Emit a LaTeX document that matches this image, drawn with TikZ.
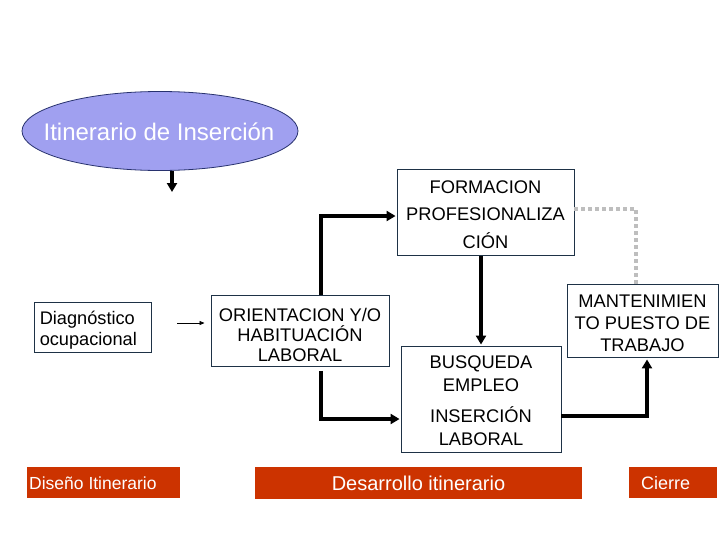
\documentclass[tikz,border=0pt]{standalone}
\usepackage{fontspec}
\setmainfont{Liberation Sans}
\usetikzlibrary{arrows.meta,shapes.geometric}
\definecolor{barred}{RGB}{204,51,0}
\definecolor{ellfill}{RGB}{160,160,240}
\definecolor{ellline}{RGB}{40,50,110}
\definecolor{boxline}{RGB}{30,50,70}
\definecolor{dotgray}{RGB}{190,190,190}
\tikzset{
  box/.style={draw=boxline, line width=0.9pt, rectangle, inner sep=0pt},
  boxtext/.style={inner sep=0pt, align=center},
  fs/.style 2 args={font=\fontsize{#1}{#2}\selectfont},
  bar/.style={fill=barred, inner sep=0pt, text=white},
  thick arrow/.style={line width=3.3pt, -{Triangle[length=9pt,width=10pt]}},
}
\begin{document}
\begin{tikzpicture}[x=1pt,y=-1pt]
\useasboundingbox (0,0) rectangle (728,546);
\fill[white] (0,0) rectangle (728,546);

% ellipse
\node[ellipse, draw=ellline, line width=0.8pt, fill=ellfill, minimum width=276pt, minimum height=79pt, inner sep=0pt]
  (ell) at (160,131) {};
\node[text=white, fs={24}{26}, inner sep=0pt] (elltxt) at (159,131.5) {Itinerario de Inserción};

% boxes
\node[box, minimum width=177pt, minimum height=86pt] (form) at (485.5,212) {};
\node[boxtext, fs={18.3}{27.5}] (formt) at ([yshift=-2.5pt]form.center)
  {FORMACION\\PROFESIONALIZA\\CIÓN};
\node[box, minimum width=160pt, minimum height=106pt] (busq) at (481,399) {};
\node[boxtext, fs={18.3}{22.5}] (busqt) at ([yshift=-1.5pt]busq.center)
  {BUSQUEDA\\EMPLEO\\[9pt]INSERCIÓN\\LABORAL};
\node[box, minimum width=151pt, minimum height=73pt] (mant) at (642.5,320.5) {};
\node[boxtext, fs={18.3}{22}] (mantt) at ([yshift=-3pt]mant.center)
  {MANTENIMIEN\\TO PUESTO DE\\TRABAJO};
\node[box, minimum width=178pt, minimum height=71pt] (ori) at (300,331) {};
\node[boxtext, fs={18.3}{20}] (orit) at ([yshift=-4pt]ori.center)
  {ORIENTACION Y/O\\HABITUACIÓN\\LABORAL};
\node[box, minimum width=117pt, minimum height=50pt] (diag) at (92.5,327) {};
\node[boxtext, fs={18.2}{21}, align=left, anchor=west] (diagt) at ([xshift=6pt,yshift=-3pt]diag.west)
  {Diagnóstico\\ocupacional};

% coordinates
\coordinate (e1) at (172,192);
\coordinate (c1) at (321,216);
\coordinate (c2) at (321,419);
\coordinate (c3) at (647,416);
\coordinate (c4) at (636,209);

% connectors
\draw[thick arrow] (ell.south -| e1) -- (e1);
\draw[thick arrow] (ori.north -| c1) -- (c1) -- ([xshift=-1pt]c1 -| form.west);
\draw[thick arrow] ([yshift=-4pt]ori.south -| c2) -- (c2) -- ([xshift=-1pt]c2 -| busq.west);
\draw[thick arrow] ([yshift=-0.5pt]busq.north |- form.south) -- ([yshift=1pt]busq.north);
\draw[thick arrow] (c3 -| busq.east) -- (c3) -- ([yshift=-2pt]c3 |- mant.south);
\draw[line width=0.8pt, -{Triangle[length=5pt,width=4pt]}] ([xshift=26pt,yshift=4pt]diag.east) -- ([xshift=-6pt,yshift=8pt]ori.west);
\draw[dotgray, line width=4pt, dash pattern=on 4pt off 3pt] (c4 -| form.east) -- (c4) -- (c4 |- mant.north);

% bottom bars
\node[bar, minimum width=153pt, minimum height=31pt] (b1) at (103.5,482.5) {};
\node[text=white, fs={17.5}{20}, inner sep=0pt, anchor=west] (b1t) at (29,483.5) {Diseño Itinerario};
\node[bar, minimum width=327pt, minimum height=32pt, fs={20}{22}] (b2) at (418.5,483) {Desarrollo itinerario};
\node[bar, minimum width=88pt, minimum height=31pt] (b3) at (673,482.5) {};
\node[text=white, fs={18}{20}, inner sep=0pt, anchor=west] (b3t) at (641,483.5) {Cierre};
\end{tikzpicture}
\end{document}
